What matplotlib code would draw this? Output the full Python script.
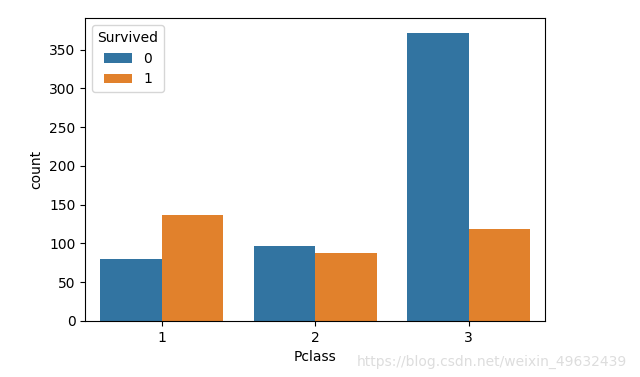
import matplotlib
matplotlib.use("Agg")
import matplotlib.pyplot as plt
import numpy as np

pclass = ["1", "2", "3"]
died = [80, 97, 372]
survived = [136, 87, 119]
hue_labels = ["0", "1"]
colors = ["#3274a1", "#e1812c"]

fig = plt.figure(figsize=(6.4, 3.77), dpi=100)
ax = fig.add_axes([0.133, 0.149, 0.719, 0.803])

x = np.arange(len(pclass))
w = 0.4
ax.bar(x - w / 2, died, w, color=colors[0], label=hue_labels[0])
ax.bar(x + w / 2, survived, w, color=colors[1], label=hue_labels[1])

ax.set_xticks(x)
ax.set_xticklabels(pclass)
ax.set_xlim(-0.5, 2.5)
ax.set_xlabel("Pclass")
ax.set_ylabel("count")
ax.legend(title="Survived", loc="upper left")

fig.text(0.98, 0.04, "https://blog.csdn.net/weixin_49632439", ha="right",
         va="center", color="#dddddd", fontsize=10)

fig.savefig("out.png")
